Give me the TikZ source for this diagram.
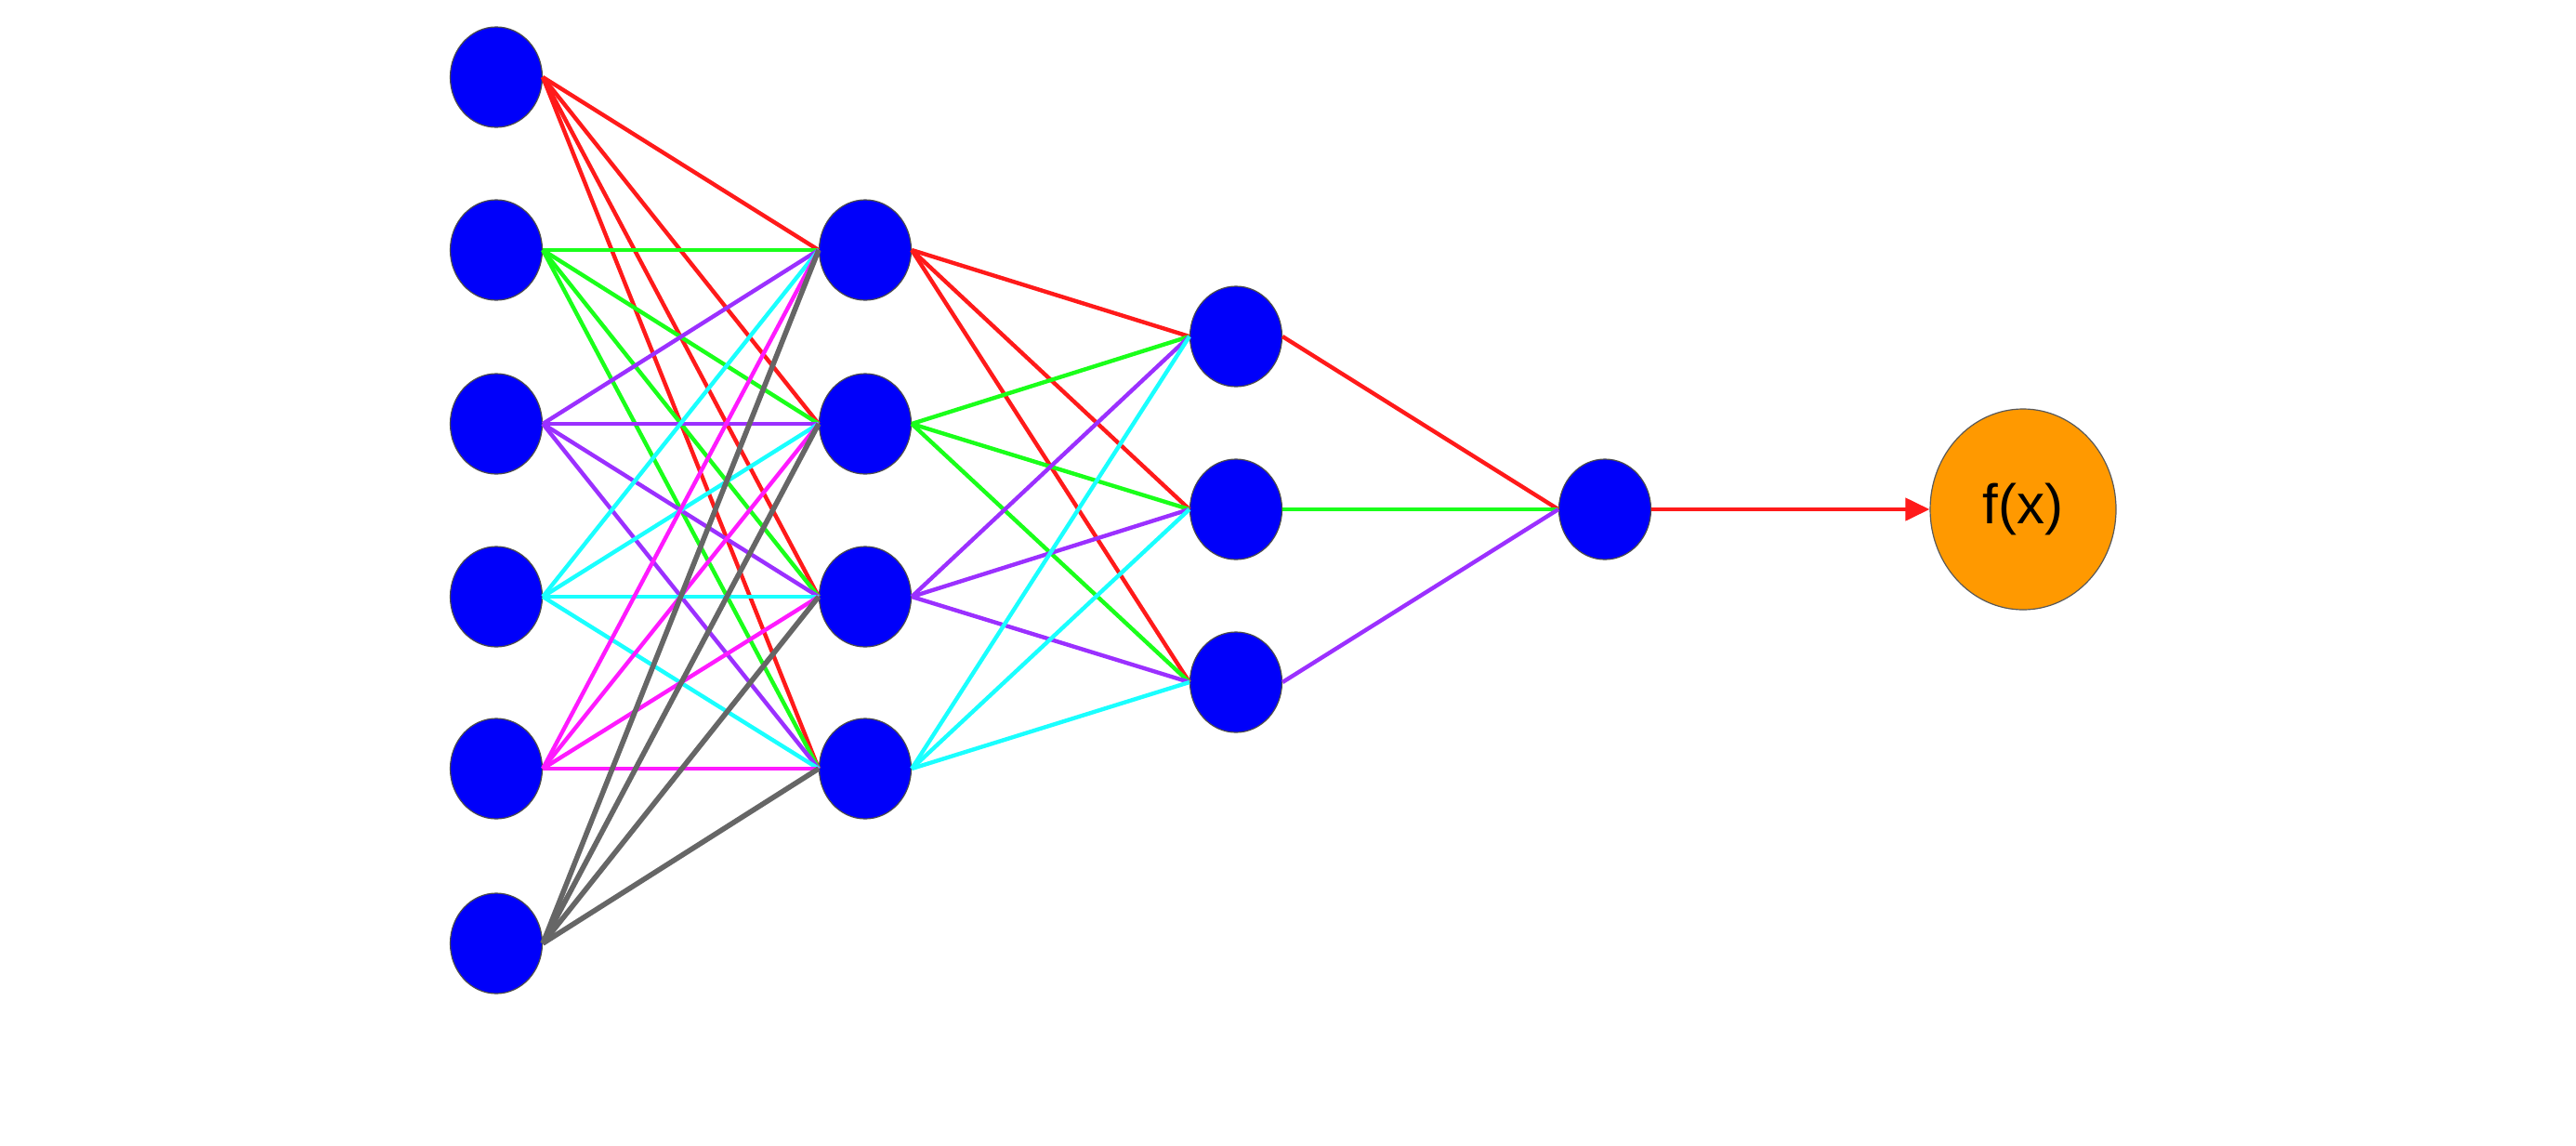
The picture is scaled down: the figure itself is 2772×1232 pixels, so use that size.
\documentclass[tikz,border=0pt]{standalone}
\usepackage{fontspec}
\setmainfont{Liberation Sans}
\usetikzlibrary{arrows.meta,shapes.geometric}
\definecolor{cred}{HTML}{FF1A1A}
\definecolor{cgreen}{HTML}{1AFF1A}
\definecolor{cpurple}{HTML}{9B30FF}
\definecolor{ccyan}{HTML}{1AFFFF}
\definecolor{cmag}{HTML}{FF1AFF}
\definecolor{cgray}{HTML}{666666}
\definecolor{corange}{HTML}{FF9900}
\tikzset{
  neuron/.style={ellipse, fill={rgb,255:red,0;green,0;blue,250}, draw=gray!60!black, line width=0.3pt,
    minimum width=24.75pt, minimum height=27pt, inner sep=0pt},
  outnode/.style={ellipse, fill=corange, draw=gray!70!black, line width=0.3pt,
    minimum width=50pt, minimum height=54pt, inner sep=0pt, font=\fontsize{15}{18}\selectfont},
  conn/.style={line width=1.1pt},
}
\begin{document}
\begin{tikzpicture}[x=0.25pt,y=-0.25pt]
\useasboundingbox (0,0) rectangle (2772,1232);
% layer 1
\foreach \i/\y in {1/83,2/269,3/456,4/642,5/827,6/1015}
  \node[neuron] (a\i) at (534,\y) {};
% layer 2
\foreach \i/\y in {1/269,2/456,3/642,4/827}
  \node[neuron] (b\i) at (931,\y) {};
% layer 3
\foreach \i/\y in {1/362,2/548,3/734}
  \node[neuron] (c\i) at (1330,\y) {};
% layer 4
\node[neuron] (d1) at (1727,548) {};
\node[outnode] (out) at (2177,548) {f(x)};
% edges layer 1 -> 2
\foreach \i/\c in {1/cred,2/cgreen,3/cpurple,4/ccyan,5/cmag}
  \foreach \j in {1,...,4}
    \draw[conn,\c] (a\i.east) -- (b\j.west);
\foreach \j in {1,...,4}
  \draw[conn,cgray,line width=1.4pt] (a6.east) -- (b\j.west);
% edges layer 2 -> 3
\foreach \i/\c in {1/cred,2/cgreen,3/cpurple,4/ccyan}
  \foreach \j in {1,...,3}
    \draw[conn,\c] (b\i.east) -- (c\j.west);
% edges layer 3 -> 4
\foreach \i/\c in {1/cred,2/cgreen,3/cpurple}
  \draw[conn,\c] (c\i.east) -- (d1.west);
% output arrow
\draw[conn,cred,-{Triangle[length=6.5pt,width=6pt]}] (d1.east) -- (out.west);
\end{tikzpicture}
\end{document}
